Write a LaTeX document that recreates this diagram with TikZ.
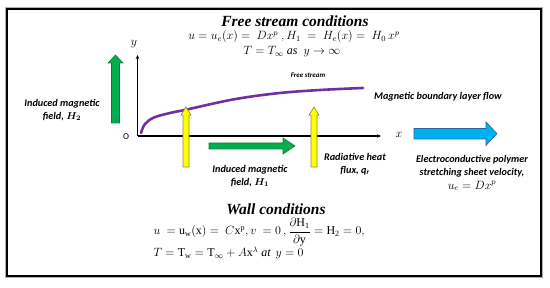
\documentclass[tikz,border=0pt]{standalone}
\usepackage{amsmath,bm}
\usepackage{fontspec}
\setmainfont{Liberation Serif}
\newfontfamily\labfont{Carlito}
\usetikzlibrary{arrows.meta}
\definecolor{agreen}{RGB}{0,176,80}
\definecolor{agreenD}{RGB}{20,120,60}
\definecolor{ayellow}{RGB}{255,255,0}
\definecolor{ayellowD}{RGB}{140,140,60}
\definecolor{ablue}{RGB}{0,176,240}
\definecolor{ablueD}{RGB}{40,100,160}
\definecolor{apurple}{RGB}{112,48,160}
\begin{document}
\begin{tikzpicture}[x=1pt,y=-1pt,
  titletext/.style={font=\fontsize{15.5}{17}\selectfont\bfseries\itshape},
  eqtext/.style={font=\fontsize{12}{14}\selectfont},
  labtext/.style={font=\labfont\fontsize{10.2}{13}\selectfont\bfseries\itshape, align=center},
  greenarrow/.style={fill=agreen, draw=agreenD, line width=0.6pt},
  yellowarrow/.style={fill=ayellow, draw=ayellowD, line width=0.6pt},
  bluearrow/.style={fill=ablue, draw=ablueD, line width=0.6pt},
  axis/.style={line width=1.3pt, -{Stealth[length=4pt,width=3.5pt]}}]
\useasboundingbox (0,0) rectangle (550,288);
% frame
\draw[line width=2.6pt] (7,9) rectangle (541,276);
\draw[gray!60, line width=0.5pt] (5.3,7.3) rectangle (542.7,277.7);

% titles and equations
\node[titletext] (ftitle) at (295,21) {Free stream conditions};
\node[eqtext] (feq1) at (294,37) {$u = u_e(x) =\ Dx^p\ ,H_1\ =\ H_e(x) =\ H_0\,x^p$};
\node[eqtext] (feq2) at (292,51.5) {$T = T_\infty\ \mathit{as}\ \ y \to \infty$};

\node[titletext] (wtitle) at (276,209) {Wall conditions};
\node[eqtext, anchor=west] (weq1) at (150,232) {$u\ = \mathrm{u_w(x)} =\ C\mathrm{x^p}, v\ = 0\,, \dfrac{\partial \mathrm{H_1}}{\partial \mathrm{y}} = \mathrm{H_2} = 0,$};
\node[eqtext, anchor=west] (weq2) at (150,253) {$T = \mathrm{T_w} = \mathrm{T_\infty} + A\mathrm{x}^\lambda\ \mathit{at}\ \,y = 0$};

% axes
\coordinate (O) at (137.5,136);
\coordinate (ytop) at (137.5,55);
\coordinate (xend) at (381,136);
\draw[axis] (O) -- (ytop);
\draw[axis] (O) -- (xend);
\node[font=\fontsize{12}{14}\selectfont] (ylab) at (134,44) {$y$};
\node[font=\fontsize{12}{14}\selectfont] (xlab) at (399,135) {$x$};
\node[font=\labfont\fontsize{9}{10}\selectfont] (olab) at (126,137) {O};

% boundary layer curve
\draw[apurple, line width=2.6pt, line cap=round]
  plot[smooth, tension=0.6] coordinates {(141,133) (145,124) (154,117.5) (170,113) (187,109.5) (233,99.5) (277,93.3) (320,90) (363,88)};

% block arrows
\filldraw[greenarrow] (111.5,123)--(111.5,63)--(108,63)--(115.5,55)--(123,63)--(119.5,63)--(119.5,123)--cycle;
\filldraw[yellowarrow] (183,167)--(183,115)--(181,115)--(186,107)--(191,115)--(189,115)--(189,167)--cycle;
\filldraw[yellowarrow] (311,167)--(311,115)--(309,115)--(314,107)--(319,115)--(317,115)--(317,167)--cycle;
\filldraw[greenarrow] (209,143)--(283,143)--(283,138)--(295,146)--(283,154)--(283,149)--(209,149)--cycle;
\filldraw[bluearrow] (414,128.5)--(486,128.5)--(486,122)--(497,133.7)--(486,145.4)--(486,139)--(414,139)--cycle;

% labels
\node[labtext, font=\labfont\fontsize{7}{8}\selectfont\bfseries\itshape] (fs) at (308,75) {Free stream};
\node[labtext] (mbl) at (438,97) {Magnetic boundary layer flow};
\node[labtext] (h2) at (62,110) {Induced magnetic\\field, $\bm{H_2}$};
\node[labtext] (h1) at (250,176) {Induced magnetic\\field, $\bm{H_1}$};
\node[labtext] (qr) at (355,164) {Radiative heat\\flux, q\textsubscript{r}};
\node[labtext] (ev) at (472,166) {Electroconductive polymer\\stretching sheet velocity,};
\node[eqtext] (ue) at (472,186) {$u_e = Dx^p$};
\end{tikzpicture}
\end{document}
